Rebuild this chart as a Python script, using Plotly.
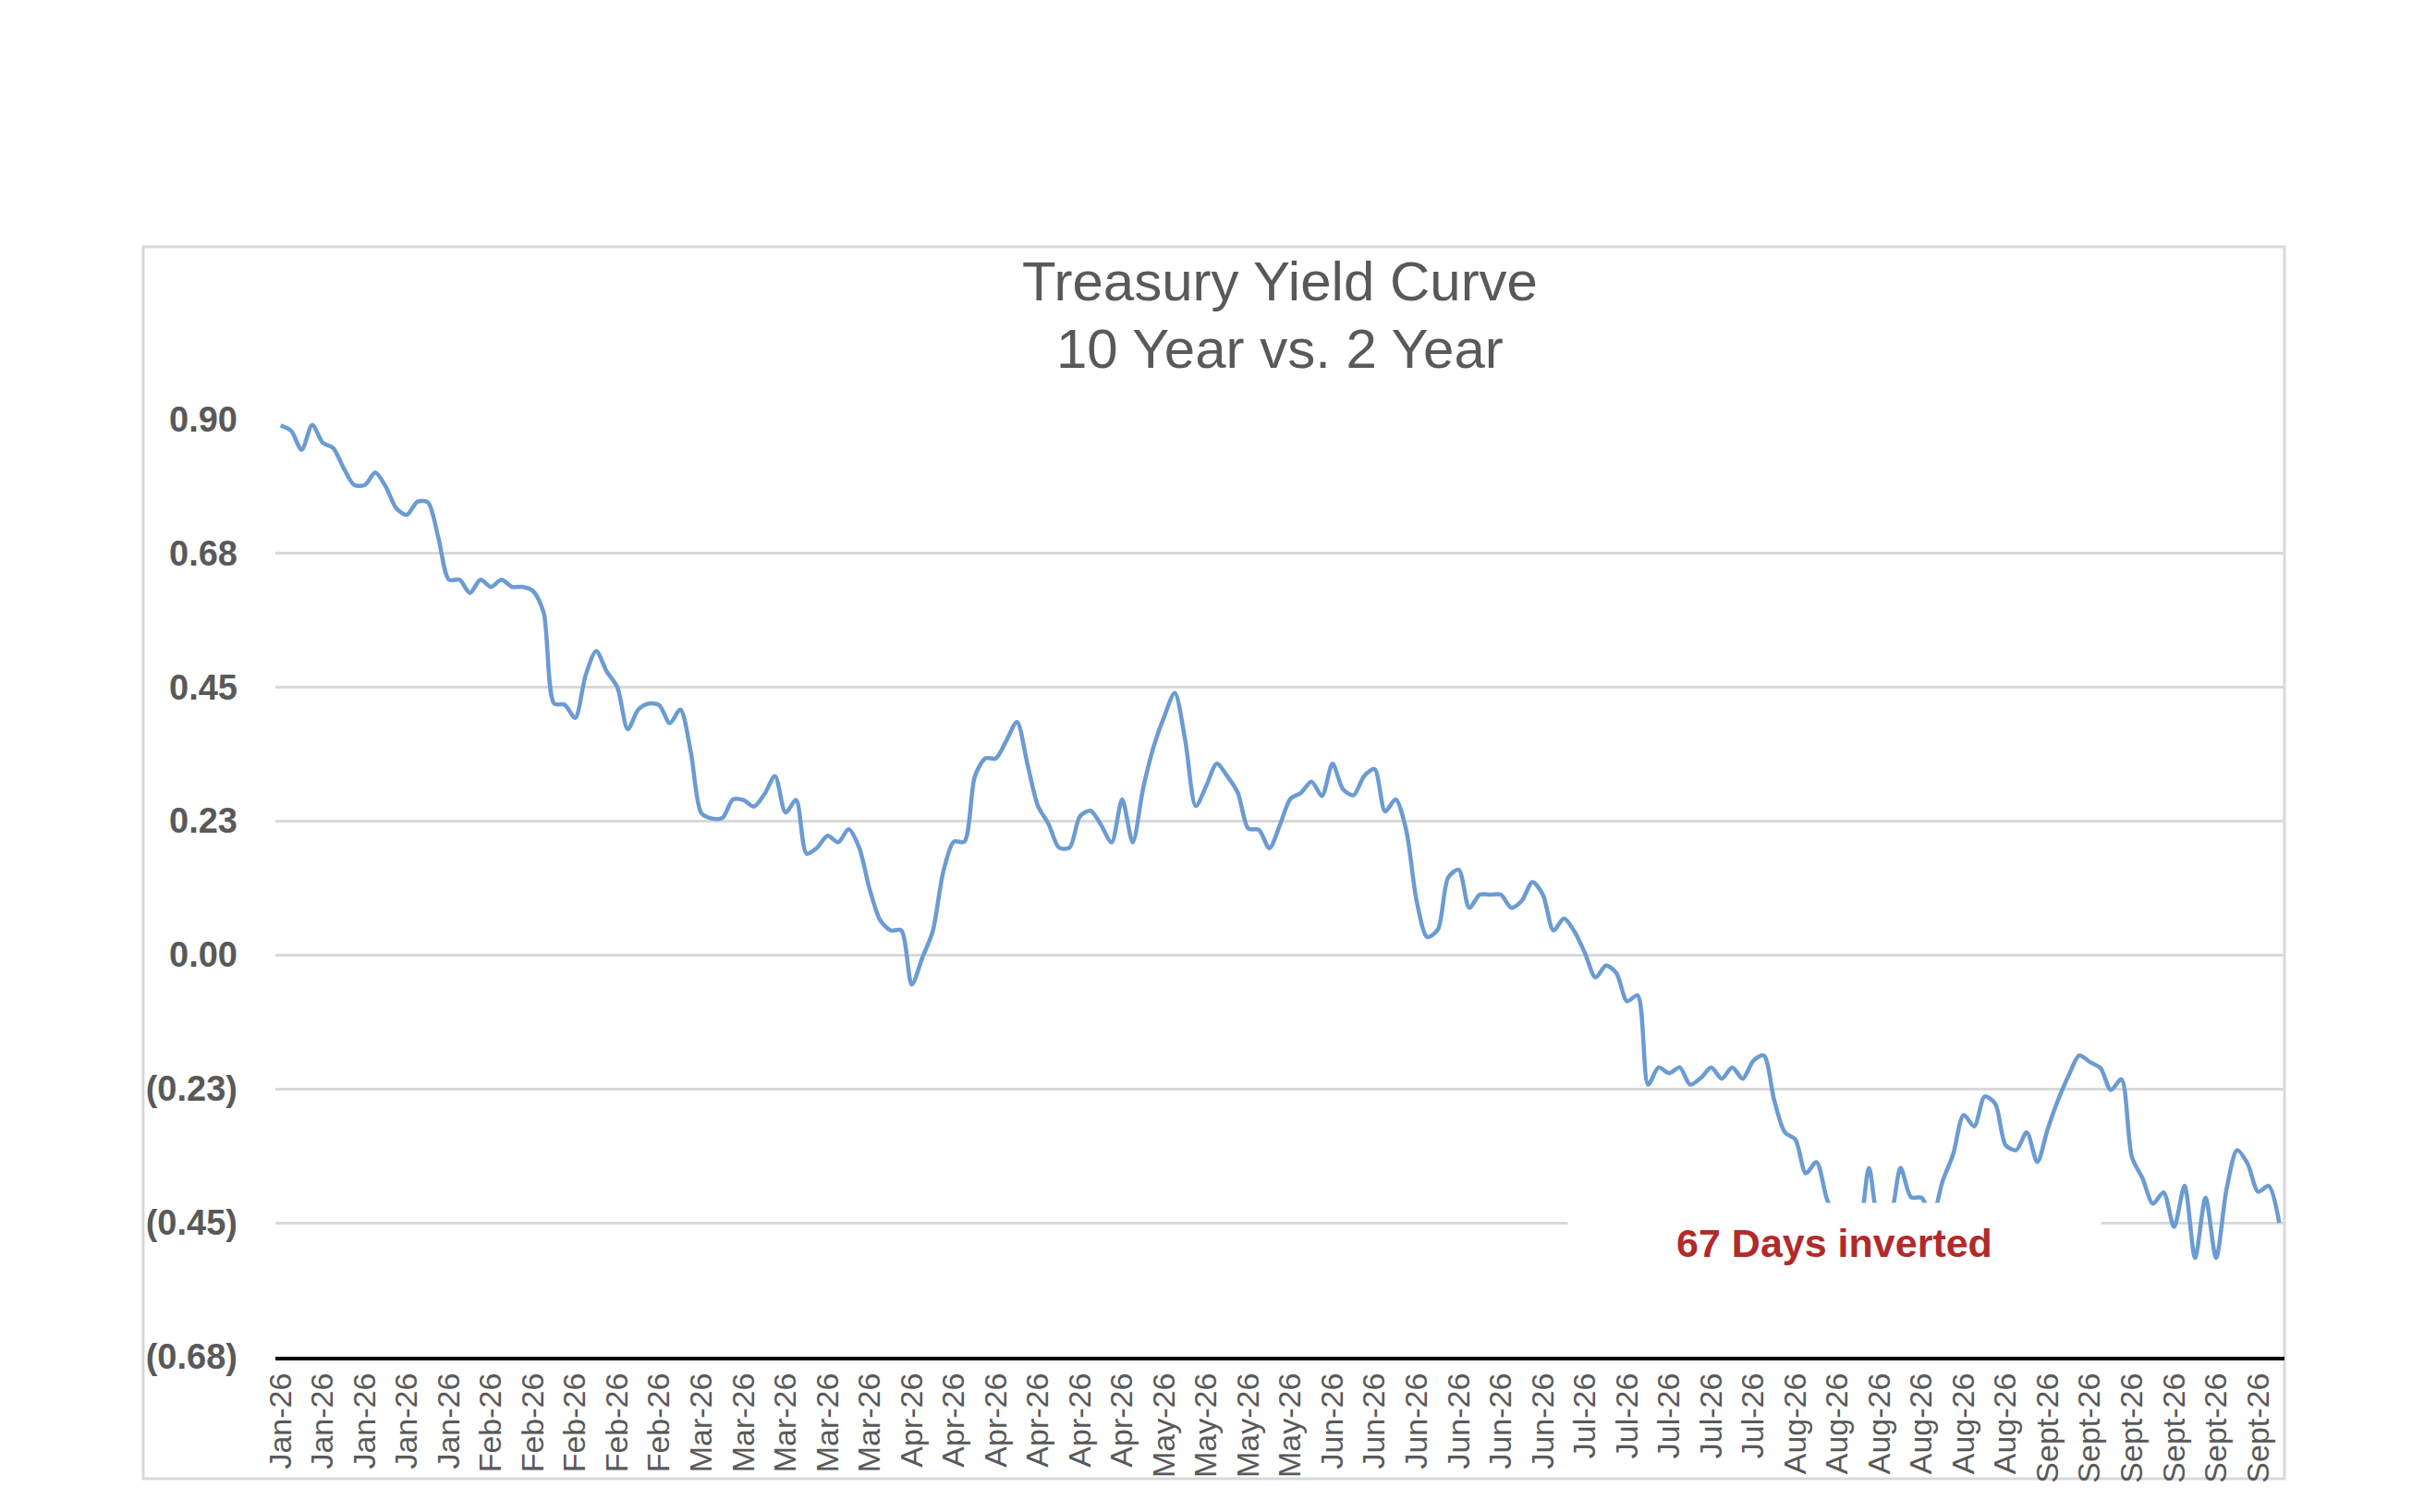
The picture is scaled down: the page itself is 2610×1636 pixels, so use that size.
import plotly.graph_objects as go

# ---- data -------------------------------------------------------------
spread = [
    0.889, 0.880, 0.848, 0.890, 0.860, 0.851, 0.817, 0.789, 0.789, 0.810,
    0.786, 0.750, 0.739, 0.761, 0.760, 0.700, 0.630, 0.630, 0.608, 0.630,
    0.618, 0.630, 0.618, 0.618, 0.611, 0.575, 0.422, 0.420, 0.398, 0.470,
    0.510, 0.476, 0.450, 0.379, 0.412, 0.422, 0.419, 0.389, 0.412, 0.340,
    0.238, 0.229, 0.230, 0.261, 0.260, 0.249, 0.270, 0.300, 0.239, 0.260,
    0.170, 0.180, 0.200, 0.189, 0.211, 0.180, 0.110, 0.058, 0.041, 0.041,
    -0.050, -0.005, 0.040, 0.140, 0.190, 0.190, 0.300, 0.330, 0.330, 0.360,
    0.391, 0.320, 0.250, 0.220, 0.180, 0.180, 0.233, 0.242, 0.218, 0.189,
    0.261, 0.189, 0.280, 0.350, 0.400, 0.440, 0.360, 0.250, 0.284, 0.321,
    0.300, 0.272, 0.212, 0.210, 0.179, 0.218, 0.262, 0.272, 0.291, 0.267,
    0.321, 0.278, 0.268, 0.300, 0.312, 0.241, 0.261, 0.210, 0.090, 0.030,
    0.042, 0.130, 0.143, 0.079, 0.101, 0.101, 0.101, 0.079, 0.091, 0.122,
    0.101, 0.041, 0.061, 0.039, 0.003, -0.038, -0.018, -0.031, -0.078, -0.068,
    -0.218, -0.189, -0.199, -0.189, -0.218, -0.207, -0.189, -0.208, -0.189, -0.208,
    -0.178, -0.169, -0.245, -0.298, -0.310, -0.367, -0.348, -0.410, -0.450, -0.470,
    -0.460, -0.358, -0.450, -0.440, -0.358, -0.407, -0.408, -0.440, -0.380, -0.335,
    -0.269, -0.288, -0.238, -0.250, -0.320, -0.328, -0.298, -0.348, -0.292, -0.243,
    -0.202, -0.169, -0.180, -0.190, -0.227, -0.209, -0.340, -0.375, -0.418, -0.399,
    -0.457, -0.388, -0.509, -0.408, -0.509, -0.393, -0.328, -0.351, -0.398, -0.388,
    -0.450,
]
day_index = list(range(len(spread)))

tick_step = 4
tick_labels = (["Jan-26"] * 5 + ["Feb-26"] * 5 + ["Mar-26"] * 5 + ["Apr-26"] * 6 +
               ["May-26"] * 4 + ["Jun-26"] * 6 + ["Jul-26"] * 5 + ["Aug-26"] * 6 +
               ["Sept-26"] * 6)
tick_positions = day_index[::tick_step][:len(tick_labels)]

y_ticks = [0.9, 0.675, 0.45, 0.225, 0.0, -0.225, -0.45, -0.675]
y_labels = ["0.90", "0.68", "0.45", "0.23", "0.00", "(0.23)", "(0.45)", "(0.68)"]

title_lines = ["Treasury Yield Curve", "10 Year vs. 2 Year"]
note_text = "67 Days inverted"
note_x = 147.7
note_y = -0.484

# ---- figure -----------------------------------------------------------
FONT = "Liberation Sans, Arial, Helvetica, sans-serif"
GREY = "#595959"

fig = go.Figure(
    go.Scatter(
        x=day_index, y=spread, mode="lines",
        line=dict(color="#6b9bd2", width=4.5, shape="spline", smoothing=0.8),
        hoverinfo="skip", showlegend=False,
    )
)

fig.update_layout(
    width=2610, height=1636,
    margin=dict(l=298, r=138, t=453, b=168, pad=0),
    paper_bgcolor="white", plot_bgcolor="white",
    font=dict(family=FONT, color=GREY),
    xaxis=dict(
        range=[-0.5, len(spread) - 0.5],
        tickmode="array", tickvals=tick_positions, ticktext=tick_labels,
        tickangle=-90, tickfont=dict(size=34, color=GREY, family=FONT),
        showgrid=False, zeroline=False,
        showline=True, linecolor="black", linewidth=4,
        ticks="", fixedrange=True,
    ),
    yaxis=dict(
        range=[-0.675, 0.9005],
        tickmode="array", tickvals=y_ticks, ticktext=y_labels,
        tickfont=dict(size=38, color=GREY, family=FONT, weight="bold"),
        showgrid=True, gridcolor="#d9d9d9", gridwidth=3,
        zeroline=False, showline=False, ticks="",
        ticklabelstandoff=40, fixedrange=True,
    ),
    shapes=[
        dict(type="rect", xref="paper", yref="paper",
             x0=-0.0658, x1=1.0, y0=-0.1300, y1=1.1833,
             line=dict(color="#d9d9d9", width=3), fillcolor="rgba(0,0,0,0)",
             layer="below"),
    ],
    annotations=[
        dict(text=title_lines[0], xref="paper", yref="paper", x=0.5, y=1.1463,
             xanchor="center", yanchor="middle", showarrow=False,
             font=dict(size=60, color=GREY, family=FONT)),
        dict(text=title_lines[1], xref="paper", yref="paper", x=0.5, y=1.0741,
             xanchor="center", yanchor="middle", showarrow=False,
             font=dict(size=60, color=GREY, family=FONT)),
        dict(text="<b>" + note_text + "</b>", xref="x", yref="y",
             x=note_x, y=note_y, xanchor="center", yanchor="middle",
             showarrow=False, bgcolor="white", width=576, height=85,
             borderpad=0, font=dict(size=43, color="#b22a2a", family=FONT)),
    ],
)

fig.write_html("out.html")
